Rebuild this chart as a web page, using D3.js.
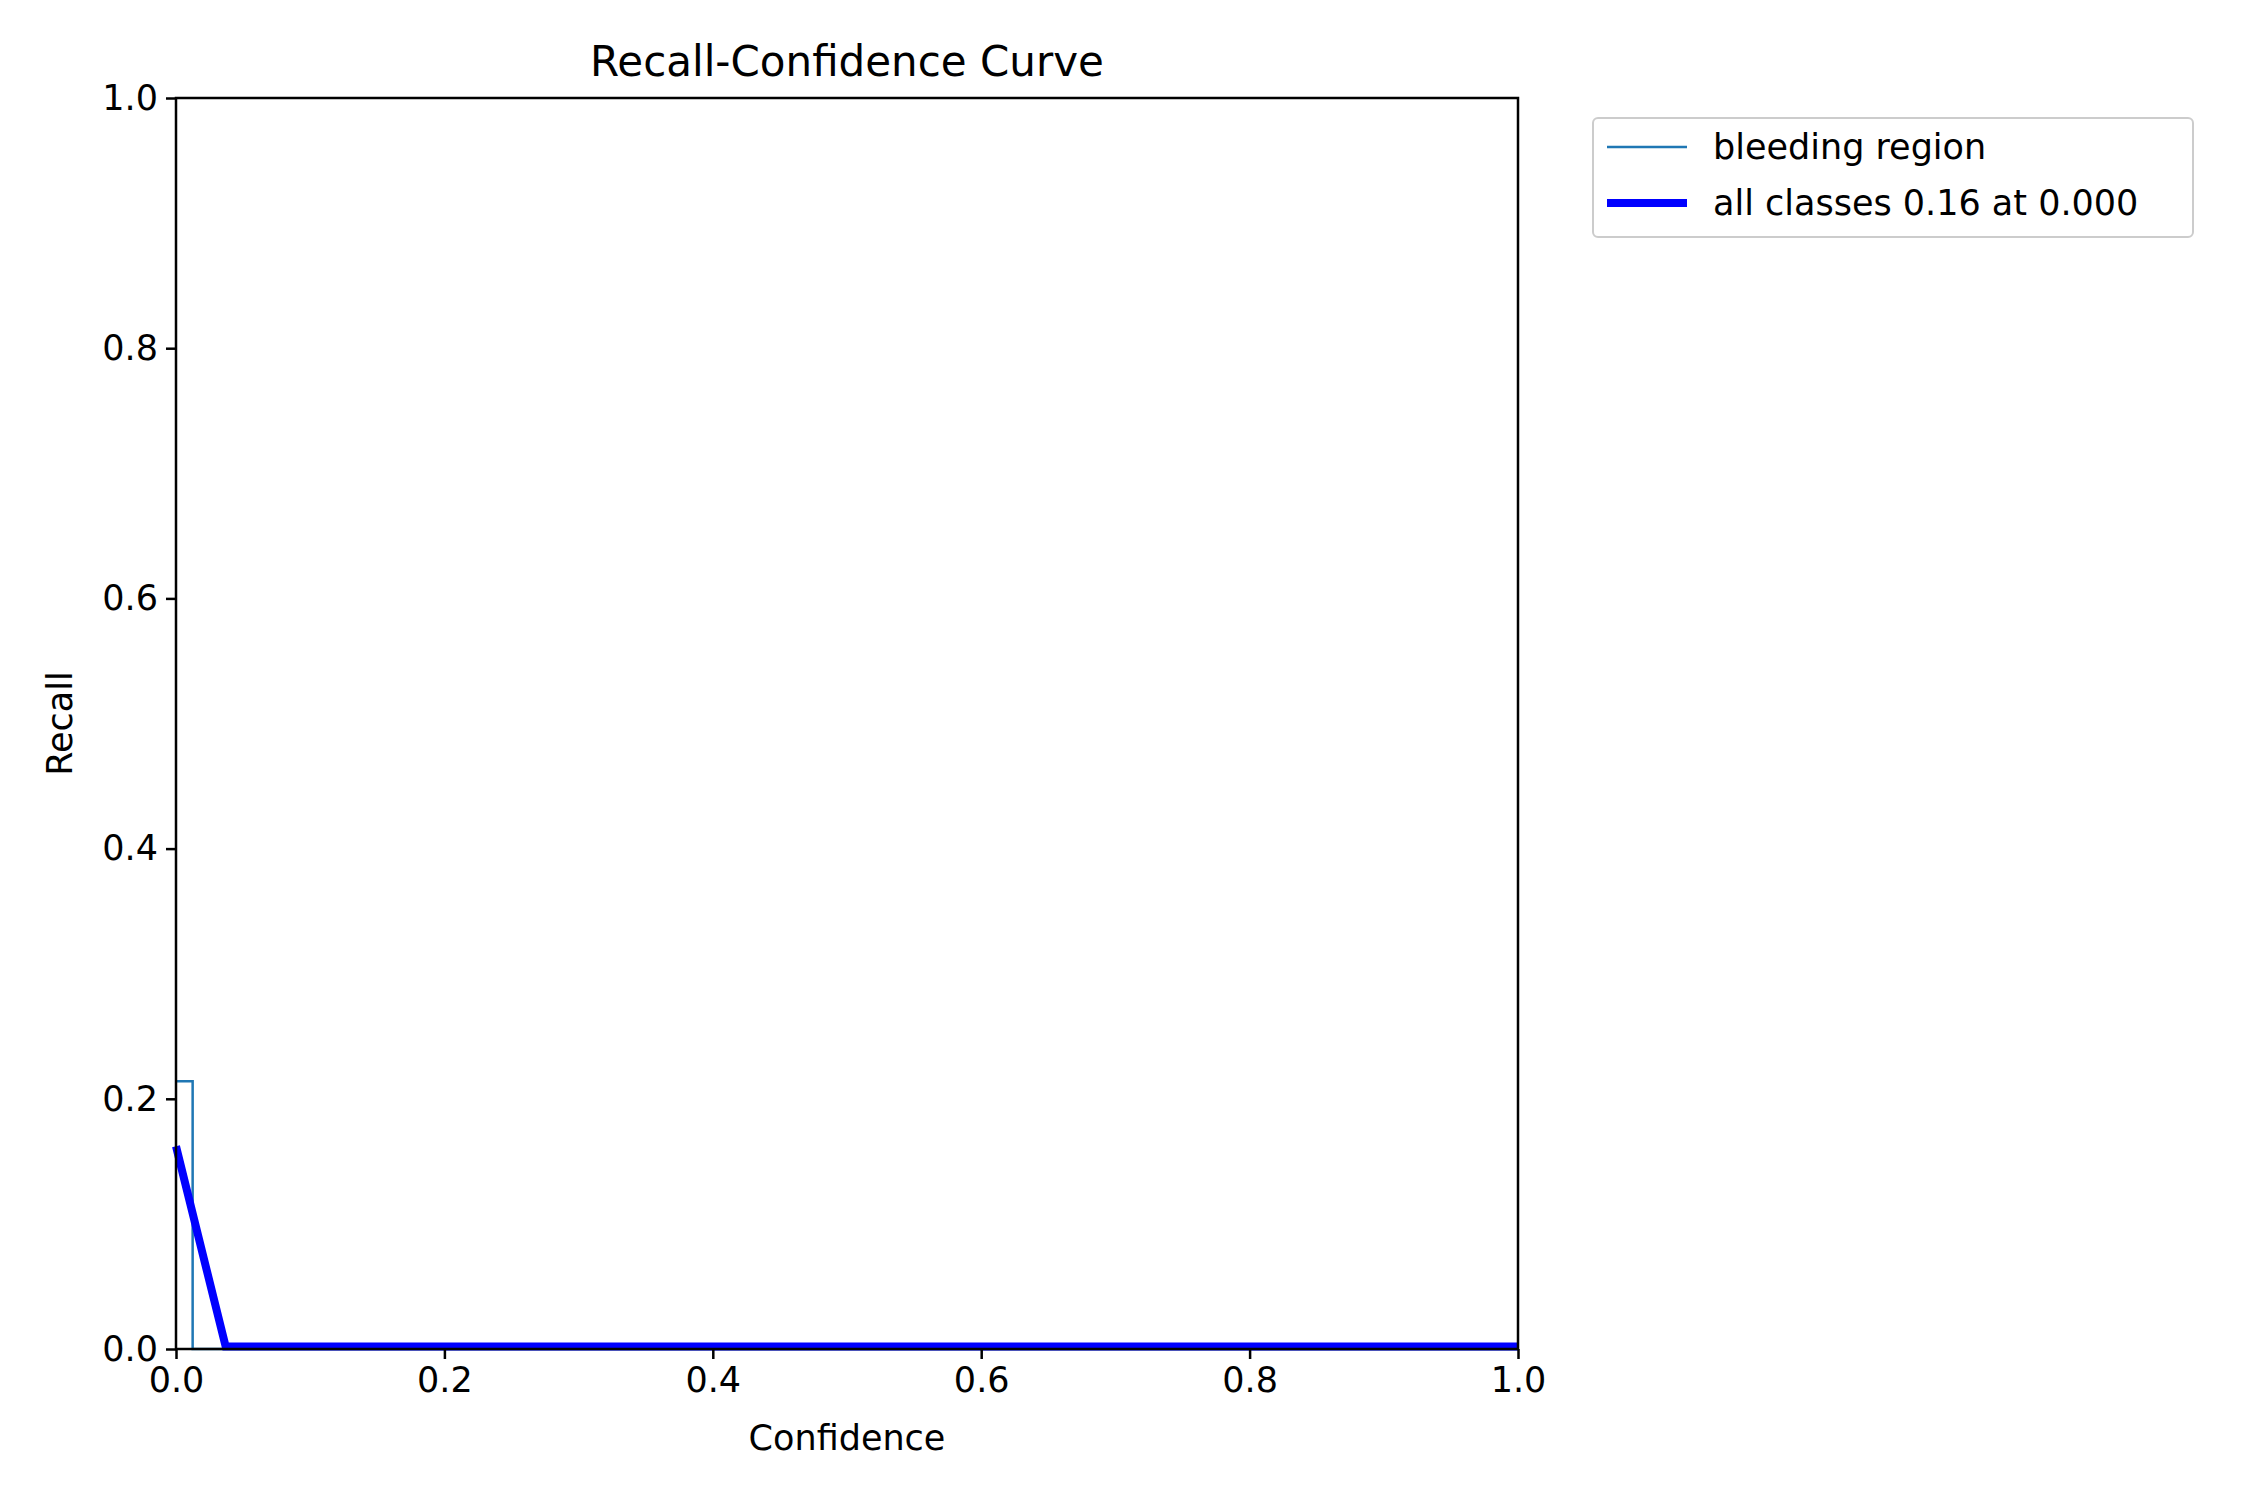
<!DOCTYPE html>
<html><head><meta charset="utf-8">
<script src="https://cdn.jsdelivr.net/npm/d3@7"></script>
<style>body{margin:0;background:#fff}text{font-family:"DejaVu Sans",sans-serif}</style>
</head><body>
<svg id="chart" width="2250" height="1500"></svg>
<script>
// curve data
var classX = [0, 0.0124, 0.0124, 1.0];
var classY = [0.214, 0.214, 0, 0];
var allX = [0, 0.037, 1.0];
var allY = [0.162, 0.002, 0.002];
var ticks = [0, 0.2, 0.4, 0.6, 0.8, 1.0];
var legendLabels = ["bleeding region", "all classes 0.16 at 0.000"];

var svg = d3.select("#chart"),
    margin = {left: 176, top: 98, right: 732, bottom: 151},
    width = 2250 - margin.left - margin.right,
    height = 1500 - margin.top - margin.bottom,
    g = svg.append("g").attr("transform", "translate(" + margin.left + "," + margin.top + ")");

var x = d3.scaleLinear().domain([0, 1]).range([0, width]);
var y = d3.scaleLinear().domain([0, 1]).range([height, 0]);

var line = d3.line().x(function (d) { return x(d[0]); }).y(function (d) { return y(d[1]); });

g.append("path").datum(d3.zip(classX, classY))
    .attr("fill", "none").attr("stroke", "#1f77b4").attr("stroke-width", 2.5).attr("d", line);
g.append("path").datum(d3.zip(allX, allY))
    .attr("fill", "none").attr("stroke", "#0000ff").attr("stroke-width", 8).attr("d", line);

var xa = g.append("g").attr("transform", "translate(0," + height + ")")
    .call(d3.axisBottom(x).tickValues(ticks).tickFormat(d3.format(".1f")).tickSize(10).tickPadding(8));
var ya = g.append("g")
    .call(d3.axisLeft(y).tickValues(ticks).tickFormat(d3.format(".1f")).tickSize(10).tickPadding(8));
[xa, ya].forEach(function (a) {
    a.selectAll("text").attr("font-size", 35).attr("fill", "#000");
    a.selectAll("line").attr("stroke", "#000").attr("stroke-width", 2.5);
    a.select(".domain").remove();
});

// frame
g.append("rect").attr("width", width).attr("height", height)
    .attr("fill", "none").attr("stroke", "#000").attr("stroke-width", 2.5);

svg.append("text").attr("x", margin.left + width / 2).attr("y", 76)
    .attr("text-anchor", "middle").attr("font-size", 42).text("Recall-Confidence Curve");
svg.append("text").attr("x", margin.left + width / 2).attr("y", 1450)
    .attr("text-anchor", "middle").attr("font-size", 35).text("Confidence");
svg.append("text").attr("transform", "translate(72," + (margin.top + height / 2) + ") rotate(-90)")
    .attr("text-anchor", "middle").attr("font-size", 35).text("Recall");

// legend
var lg = svg.append("g").attr("transform", "translate(1593,118)");
lg.append("rect").attr("width", 600).attr("height", 119).attr("rx", 5)
    .attr("fill", "#fff").attr("stroke", "#ccc").attr("stroke-width", 2);
var colors = ["#1f77b4", "#0000ff"], widths = [2.5, 8];
legendLabels.forEach(function (t, i) {
    var yy = 29 + i * 56;
    lg.append("line").attr("x1", 14).attr("x2", 94).attr("y1", yy).attr("y2", yy)
        .attr("stroke", colors[i]).attr("stroke-width", widths[i]);
    lg.append("text").attr("x", 120).attr("y", yy + 12).attr("font-size", 35).text(t);
});
</script>
</body></html>
